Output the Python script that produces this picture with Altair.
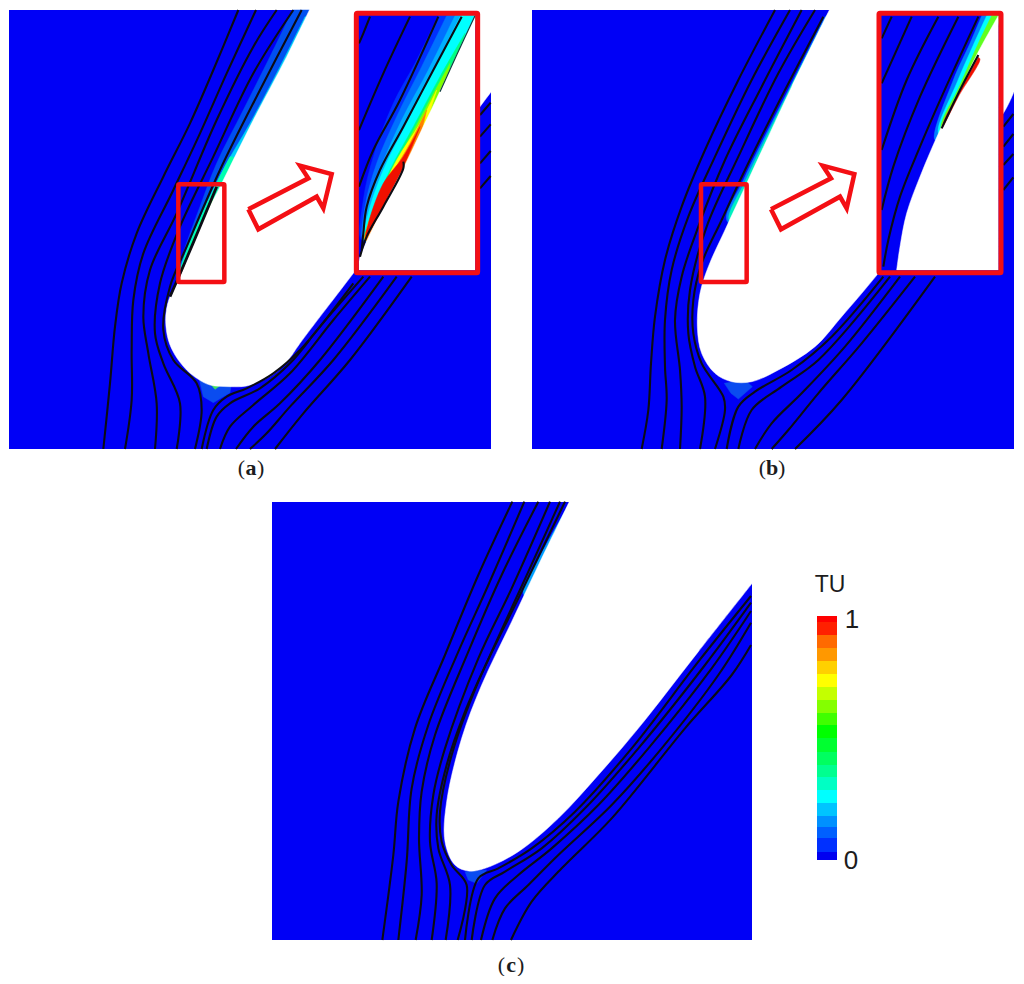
import altair as alt
import pandas as pd

BLUE = "#0000f6"
RED = "#f40f14"
LINE = "#0c0c14"

# Panel frames: (left, top, right, bottom) in page units
panel_a = (9, 10, 491, 449)
panel_b = (532, 10, 1014, 449)
panel_c = (272, 502, 752, 940)

# ---- panel a (read at 3x, origin 0,0)
ORG_A = (0, 0)
body_a = [(930,26),(930,26),(860,170),(760,360),(660,560),(600,680),(540,830),(510,890),(500,925),(497,965),(505,1020),(525,1065),(560,1110),(595,1138),(630,1155),(690,1160),(740,1158),(790,1140),(830,1115),(865,1080),(900,1030),(1060,820),(1440,320),(1476,272),(1476,272),(1476,26),(1476,26)]
ab1 = [(878,30),(878,30),(810,170),(730,330),(650,490),(600,620),(550,760),(530,850),(700,600),(960,30),(960,30)]
ab2 = [(915,50),(915,50),(840,200),(750,370),(680,490),(620,610),(560,750),(535,840),(760,500),(960,50),(960,50)]
ab3 = [(690,470),(640,570),(590,680),(550,780),(535,840),(760,500)]
ab4 = [(640,600),(590,700),(550,800),(535,840),(760,500)]
ab5 = [(590,720),(560,780),(535,840),(650,650)]
stag_a = [(598,1140),(610,1190),(640,1208),(690,1178),(695,1145)]
tip_a = [(628,1148),(662,1156),(645,1168)]
a1 = [(715,30),(640,210),(570,370),(490,530),(410,700),(365,850),(345,980),(330,1150),(310,1347)]
a2 = [(768,30),(680,220),(600,400),(520,570),(430,760),(400,900),(395,1050),(395,1200),(375,1347)]
a3 = [(830,30),(760,140),(650,360),(530,640),(450,810),(430,950),(445,1060),(470,1210),(465,1347)]
a4 = [(880,30),(760,220),(640,470),(540,680),(480,850),(465,1000),(490,1090),(540,1210),(530,1347)]
a5 = [(905,30),(780,270),(660,510),(560,740),(510,860),(490,990),(520,1080),(590,1150),(605,1230),(585,1347)]
a6 = [(605,1347),(640,1230),(680,1190),(740,1165),(820,1120),(900,1050),(1060,850)]
a7 = [(620,1347),(650,1250),(690,1210),(780,1165),(870,1090),(960,980),(1090,830)]
a8 = [(660,1347),(690,1280),(760,1215),(870,1120),(1000,960),(1110,830)]
a9 = [(708,1347),(760,1280),(840,1210),(960,1080),(1150,830)]
a10 = [(750,1347),(800,1300),(870,1220),(1000,1080),(1190,830)]
a11 = [(825,1347),(910,1240),(1050,1080),(1235,830)]
a12 = [(1440,345),(1472,308)]
a13 = [(1440,410),(1472,373)]
a14 = [(1440,490),(1472,453)]
a15 = [(1440,565),(1472,528)]
a16 = [(650,560),(600,680),(545,810),(510,890)]

# ---- panel a inset (read at 3x, origin 340,0)
ORG_AI = (340, 0)
inset_a = (49, 40, 413, 818)
wall_ai = [(405,47),(405,47),(350,165),(290,295),(240,400),(190,505),(130,620),(60,770),(57,785),(57,785),(57,810),(57,810),(405,810),(405,810)]
ai0 = [(295,47),(225,190),(160,310),(100,470),(70,600),(65,720),(100,720),(210,510),(310,300),(405,47)]
ai1 = [(320,47),(245,200),(170,350),(110,490),(75,620),(70,720),(100,720),(210,510),(310,300),(405,47)]
ai2 = [(345,47),(265,210),(185,360),(120,510),(80,640),(70,720),(100,720),(210,510),(310,300),(405,47)]
ai3 = [(362,47),(280,210),(200,370),(130,510),(85,640),(72,720),(100,720),(210,510),(310,300),(405,47)]
ai4 = [(375,100),(300,230),(220,380),(150,510),(95,640),(75,720),(100,720),(210,510),(310,300)]
ai5 = [(330,190),(270,300),(200,430),(140,540),(100,640),(75,720),(100,720),(210,510),(310,300)]
ai6 = [(290,270),(240,370),(170,480),(115,600),(80,700),(100,720),(210,510)]
ai7 = [(260,330),(210,430),(140,550),(100,640),(75,720),(100,720),(210,510)]
ai8 = [(240,380),(190,470),(130,550),(85,670),(78,710),(130,620),(190,500)]
ail1 = [(90,50),(70,100),(57,130)]
ail2 = [(210,50),(130,220),(57,390)]
ail3 = [(295,50),(180,300),(100,450),(57,560)]
ail4 = [(365,50),(280,210),(190,380),(120,510),(80,620),(70,700),(65,750)]
ail5 = [(405,47),(350,165),(300,275)]
ail6 = [(190,485),(190,505),(130,620),(80,710),(60,770)]

# ---- panel b (read at 3x, origin 525,0)
ORG_B = (525, 0)
body_b = [(915,26),(915,26),(800,260),(665,550),(600,690),(550,800),(525,880),(517,980),(530,1060),(570,1120),(620,1145),(680,1145),(760,1110),(870,1040),(950,950),(1060,820),(1435,340),(1468,272),(1468,272),(1468,26),(1468,26)]
bb1 = [(900,50),(800,250),(660,530),(605,660),(640,680),(920,50)]
bb2 = [(910,40),(803,250),(665,535),(612,660),(640,680),(920,50)]
stag_b = [(598,1150),(618,1180),(640,1197),(682,1160),(660,1140)]
b1 = [(750,30),(640,240),(540,450),(470,620),(420,780),(390,950),(378,1090),(370,1230),(350,1347)]
b2 = [(795,30),(680,240),(570,470),(490,650),(440,810),(420,960),(420,1100),(425,1200),(410,1347)]
b3 = [(830,30),(710,260),(600,480),(520,680),(470,830),(450,960),(465,1110),(470,1220),(465,1347)]
b4 = [(870,30),(760,220),(640,470),(545,680),(495,870),(490,1000),(510,1100),(540,1190),(525,1347)]
b5 = [(895,50),(780,270),(660,510),(590,660),(530,790),(505,900),(505,1000),(530,1090),(595,1190),(600,1230),(570,1347)]
b6 = [(605,1347),(640,1220),(690,1175),(800,1110),(920,1010),(1075,830)]
b7 = [(640,1347),(680,1230),(770,1160),(880,1080),(1095,830)]
b8 = [(690,1347),(740,1270),(830,1180),(960,1040),(1125,830)]
b9 = [(740,1347),(790,1290),(880,1180),(1010,1030),(1170,830)]
b10 = [(810,1347),(950,1200),(1230,830)]
b11 = [(1435,380),(1465,342)]
b12 = [(1435,440),(1465,402)]
b13 = [(1435,495),(1465,462)]
b14 = [(1435,570),(1465,532)]

# ---- panel b inset (read at 3x, origin 870,0)
ORG_BI = (870, 0)
inset_b = (27, 40, 393, 818)
wall_bi = [(385,47),(385,47),(320,165),(270,270),(210,390),(150,530),(110,640),(90,740),(80,810),(80,810),(385,810),(385,810)]
bi1 = [(335,47),(300,130),(250,240),(195,420),(230,420),(340,180),(385,47)]
bi2 = [(350,47),(310,135),(262,245),(205,400),(230,420),(340,180),(385,47)]
bi3 = [(365,47),(325,130),(270,255),(212,385),(230,420),(340,180),(385,47)]
bi4 = [(325,172),(280,255),(225,355),(216,385),(265,290),(330,178)]
bil1 = [(65,50),(35,115)]
bil2 = [(125,50),(35,250)]
bil3 = [(205,50),(110,240),(35,450)]
bil4 = [(265,50),(150,290),(70,500),(35,630)]
bil5 = [(325,50),(215,290),(150,440),(90,590),(55,720),(40,800)]
bil6 = [(325,165),(270,270),(215,385)]

# ---- panel c (read at 3x, origin 265,495)
ORG_C = (265, 495)
body_c = [(915,16),(915,16),(830,190),(740,380),(650,570),(590,730),(545,920),(540,1040),(570,1110),(610,1128),(660,1120),(760,1070),(880,970),(1000,840),(1120,700),(1300,470),(1464,262),(1464,262),(1464,16),(1464,16)]
cb1 = [(905,40),(822,190),(775,295),(790,310),(920,50)]
stag_c = [(600,1130),(610,1155),(635,1165),(665,1125)]
c1 = [(742,20),(640,240),(540,480),(450,700),(400,920),(385,1080),(352,1335)]
c2 = [(778,20),(670,270),(580,470),(490,690),(440,880),(425,1100),(400,1335)]
c3 = [(820,20),(710,240),(610,470),(510,720),(470,890),(462,1030),(470,1200),(452,1335)]
c4 = [(855,20),(740,280),(640,490),(540,760),(505,900),(495,1040),(515,1165),(500,1335)]
c5 = [(885,20),(790,230),(680,470),(600,650),(545,810),(515,960),(520,1060),(555,1170),(542,1335)]
c6 = [(900,20),(760,310),(640,560),(560,780),(525,950),(530,1040),(560,1110),(605,1170),(578,1335)]
c7 = [(600,1335),(640,1150),(700,1120),(800,1060),(930,950),(1100,760),(1300,500),(1458,303)]
c8 = [(620,1335),(660,1170),(720,1130),(830,1060),(960,940),(1120,760),(1320,510),(1458,323)]
c9 = [(648,1335),(690,1210),(760,1140),(860,1060),(1000,930),(1150,760),(1340,520),(1458,348)]
c10 = [(682,1335),(720,1240),(790,1170),(880,1080),(1040,930),(1190,760),(1360,540),(1458,383)]
c11 = [(738,1335),(800,1220),(890,1120),(1040,970),(1260,700),(1400,540),(1458,450)]

# ---- small boxes and arrows (3x readings)
box_a = (535, 553, 673, 846)
box_b = (528, 553, 665, 846)
arrow_a = [(745,628),(775,688),(950,590),(970,625),(995,522),(900,497),(925,535),(745,628)]
arrow_b = [(738,628),(768,688),(945,590),(965,625),(988,522),(893,497),(918,535),(738,628)]

# ---- colour bar
bar_edges = [616,622,635,648,661,674,687,700,713,725,738,752,765,777,790,803,816,827,838,852,860]
bar_colors = ["#ff0000","#ff2000","#ff6a00","#ff9800","#ffd000","#ffff00","#c4ff00","#84ff00","#40ff00","#00ff00","#00ff30","#00ff60","#00ff90","#00ffc4","#00ffff","#00c4ff","#0090ff","#0060ff","#0030ff","#0000f0"]
bar_x = (817, 837)

# ---- labels
captions = [("a", 251, 468), ("b", 772, 468), ("c", 511, 965)]
legend_texts = [("TU", 830, 585), ("1", 852, 620), ("0", 851, 861)]

X = alt.Scale(domain=[8, 1016], range=[0, 1008], nice=False, zero=False)
Y = alt.Scale(domain=[8, 976], range=[0, 968], nice=False, zero=False)
ex = alt.X("x:Q", scale=X, axis=None)
ey = alt.Y("y:Q", scale=Y, axis=None)

def to_page(pts, org):
    return [(p[0] / 3 + org[0], p[1] / 3 + org[1]) for p in pts]

def poly(pts, org, color, smooth=True):
    px = to_page(pts, org)
    df = pd.DataFrame({"x": [p[0] for p in px] + [px[0][0]], "y": [p[1] for p in px] + [px[0][1]]})
    df["i"] = range(len(df))
    mark = dict(fill=color, stroke=color, strokeWidth=0.5)
    if smooth:
        mark["interpolate"] = "catmull-rom"
    return alt.Chart(df).mark_line(**mark).encode(x=ex, y=ey, order="i:Q")

def curves(items, org, width=2.1, color=LINE):
    rows = []
    for n, pts in enumerate(items):
        for i, p in enumerate(to_page(pts, org)):
            rows.append({"x": p[0], "y": p[1], "i": i, "n": n})
    return alt.Chart(pd.DataFrame(rows)).mark_line(interpolate="catmull-rom", color=color, strokeWidth=width).encode(
        x=ex, y=ey, detail="n:N", order="i:Q")

def outline(pts, org):
    px = to_page(pts, org)
    df = pd.DataFrame({"x": [p[0] for p in px], "y": [p[1] for p in px], "i": range(len(px))})
    return alt.Chart(df).mark_line(color=RED, strokeWidth=4.5, strokeJoin="miter").encode(x=ex, y=ey, order="i:Q")

def rect(box, fill):
    df = pd.DataFrame([{"x": box[0], "x2": box[2], "y": box[1], "y2": box[3]}])
    return alt.Chart(df).mark_rect(color=fill).encode(x=ex, x2="x2:Q", y=ey, y2="y2:Q")

def frame(box, org, width):
    b = (box[0] / 3 + org[0], box[1] / 3 + org[1], box[2] / 3 + org[0], box[3] / 3 + org[1])
    df = pd.DataFrame([{"x": b[0], "x2": b[2], "y": b[1], "y2": b[3]}])
    return alt.Chart(df).mark_rect(fillOpacity=0, stroke=RED, strokeWidth=width, cornerRadius=1).encode(
        x=ex, x2="x2:Q", y=ey, y2="y2:Q")

def inset_bg(box, org):
    b = (box[0] / 3 + org[0], box[1] / 3 + org[1], box[2] / 3 + org[0], box[3] / 3 + org[1])
    return rect(b, BLUE)

def label(txt, x, y, size, font, weight="normal", align="center", color="#1c1c1c"):
    df = pd.DataFrame([{"x": x, "y": y, "t": txt}])
    return alt.Chart(df).mark_text(fontSize=size, font=font, fontWeight=weight, align=align, baseline="middle", color=color).encode(
        x=ex, y=ey, text="t:N")

layers = []
# a
layers += [rect(panel_a, BLUE),
           poly(ab1, ORG_A, "#0050f0"), poly(ab2, ORG_A, "#00d0f8"), poly(ab3, ORG_A, "#00ffb0"),
           poly(ab4, ORG_A, "#a0f000"), poly(ab5, ORG_A, "#e81000"),
           poly(stag_a, ORG_A, "#0a4cf0", smooth=False), poly(tip_a, ORG_A, "#40e060", smooth=False),
           poly(body_a, ORG_A, "#ffffff"),
           curves([a1,a2,a3,a4,a5,a6,a7,a8,a9,a10,a11,a12,a13,a14,a15], ORG_A),
           curves([a16], ORG_A, width=2.8),
           frame(box_a, ORG_A, 4.5), poly(arrow_a, ORG_A, "#ffffff", smooth=False), outline(arrow_a, ORG_A)]
layers += [inset_bg(inset_a, ORG_AI)]
for pts, col in [(ai0,"#0030ff"),(ai1,"#0070ff"),(ai2,"#00b0ff"),(ai3,"#00ffff"),(ai4,"#00ff80"),(ai5,"#80ff00"),(ai6,"#ffff00"),(ai7,"#ff8000"),(ai8,"#f01000")]:
    layers.append(poly(pts, ORG_AI, col))
layers += [poly(wall_ai, ORG_AI, "#ffffff"),
           curves([ail1,ail2,ail3,ail4,ail6], ORG_AI), curves([ail5], ORG_AI, width=1.2, color="#104040"),
           frame(inset_a, ORG_AI, 5)]
# b
layers += [rect(panel_b, BLUE),
           poly(bb1, ORG_B, "#0080ff"), poly(bb2, ORG_B, "#00f0c0"),
           poly(stag_b, ORG_B, "#0a4cf0", smooth=False),
           poly(body_b, ORG_B, "#ffffff"),
           curves([b1,b2,b3,b4,b5,b6,b7,b8,b9,b10,b11,b12,b13,b14], ORG_B),
           frame(box_b, ORG_B, 4.5), poly(arrow_b, ORG_B, "#ffffff", smooth=False), outline(arrow_b, ORG_B)]
layers += [inset_bg(inset_b, ORG_BI),
           poly(bi1, ORG_BI, "#0080ff"), poly(bi2, ORG_BI, "#00ffff"), poly(bi3, ORG_BI, "#60ff20"),
           poly(wall_bi, ORG_BI, "#ffffff"), poly(bi4, ORG_BI, "#f01000"),
           curves([bil1,bil2,bil3,bil4,bil5,bil6], ORG_BI),
           frame(inset_b, ORG_BI, 5)]
# c
layers += [rect(panel_c, BLUE),
           poly(cb1, ORG_C, "#00a0ff"), poly(stag_c, ORG_C, "#0a4cf0", smooth=False),
           poly(body_c, ORG_C, "#ffffff"),
           curves([c1,c2,c3,c4,c5,c6,c7,c8,c9,c10,c11], ORG_C)]
# colour bar
bar_df = pd.DataFrame({"y": bar_edges[:-1], "y2": bar_edges[1:], "c": bar_colors, "x": bar_x[0], "x2": bar_x[1]})
layers.append(alt.Chart(bar_df).mark_rect().encode(
    x=ex, x2="x2:Q", y=ey, y2="y2:Q",
    color=alt.Color("c:N", scale=None, legend=None)))
# texts
for letter, x, y in captions:
    layers.append(label(letter, x, y, 22, "Liberation Serif", weight="bold"))
    layers.append(label("(", x - 6, y, 22, "Liberation Serif", align="right"))
    layers.append(label(")", x + 6, y, 22, "Liberation Serif", align="left"))
for t, x, y in legend_texts:
    layers.append(label(t, x, y, 26 if t != "TU" else 23, "Liberation Sans"))

chart = alt.layer(*layers).properties(width=1008, height=968, padding=0, background="white",
    autosize=alt.AutoSizeParams(type="none")).configure_view(stroke=None)
chart.save("out.html", embed_options={"renderer": "svg", "actions": False})
